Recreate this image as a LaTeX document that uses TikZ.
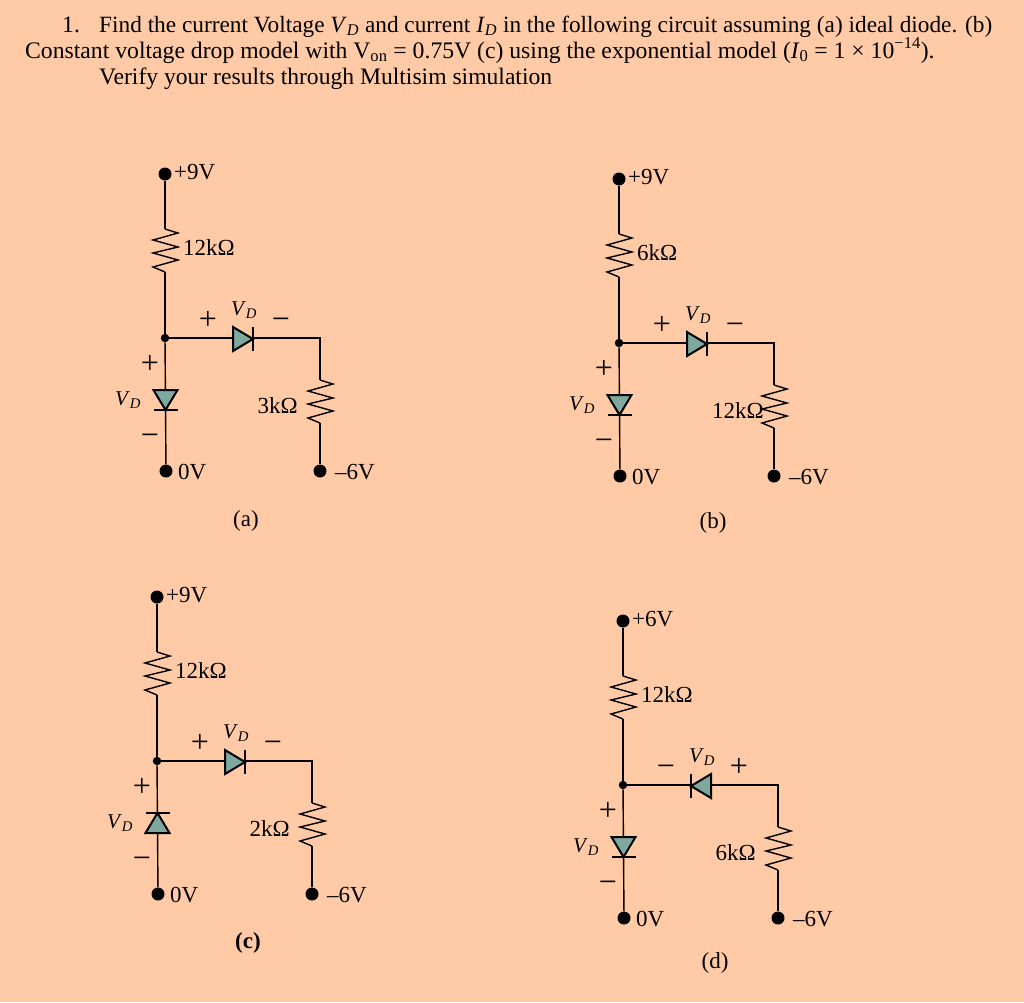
\documentclass[tikz,border=0pt]{standalone}
\usepackage{fontspec}
\setmainfont{Liberation Serif}
\definecolor{paper}{HTML}{FFCAA5}
\definecolor{diodefill}{HTML}{7FA99F}
\newcommand{\Vd}{\textit{V}\textsubscript{\textit{D}}}
\tikzset{
  lbl/.style={inner sep=0,font=\fontsize{23}{27}\selectfont},
  vlbl/.style={inner sep=0,font=\fontsize{21}{25}\selectfont},
  sign/.style={inner sep=0,anchor=base,font=\fontsize{32}{36}\selectfont},
  head/.style={inner sep=0,anchor=base west,font=\fontsize{23.6}{27}\selectfont},
  term/.style={circle,fill,inner sep=0,minimum size=13pt},
  junc/.style={circle,fill,inner sep=0,minimum size=8.5pt},
  wire/.style={line width=1.4pt},
  diode/.pic={
    \draw[line width=2pt,fill=diodefill,line join=miter] (-10,-12) -- (-10,12) -- (10,0) -- cycle;
    \draw[line width=1.6pt] (10,-12) -- (10,12);
  },
  resist/.pic={
    \coordinate (-a) at (0,0);
    \coordinate (-b) at (0,43);
    \draw[wire] (-a) -- (13,4) -- (-12,11) -- (13,18) -- (-12,24) -- (13,31) -- (-12,38) -- (-b);
  }
}
\begin{document}
\begin{tikzpicture}[x=1pt,y=-1pt]
  \fill[paper] (0,0) rectangle (1024,1002);
  \useasboundingbox (0,0) rectangle (1024,1002);
  % question text
  \node[head] (num) at (62,32) {1.};
  \node[head,font=\fontsize{23.3}{27}\selectfont] (line1) at (99,32) {Find the current Voltage \Vd{} and current \textit{I}\textsubscript{\textit{D}} in the following circuit assuming (a) ideal diode. (b)};
  \node[head,font=\fontsize{23.68}{27}\selectfont] (line2) at (25,58) {Constant voltage drop model with V\textsubscript{on} = 0.75V (c) using the exponential model (\textit{I}\textsubscript{0} = 1 × 10\textsuperscript{−14}).};
  \node[head] (line3) at (99,84) {Verify your results through Multisim simulation};
  % the four circuits
  \foreach \n/\tx/\ty/\vtop/\ra/\rb/\rbx/\rotv/\roth/\hl/\hr/\capx/\capy/\capt in {
    a/165/174/+9V/12kΩ/3kΩ/-22/-90/0/+/−/81/346/(a),
    b/619/179/+9V/6kΩ/12kΩ/-10/-90/0/+/−/94/343/(b),
    c/157/597/+9V/12kΩ/2kΩ/-22/90/0/+/−/91/345/\textbf{(c)},
    d/623/621/+6V/12kΩ/6kΩ/-22/-90/180/−/+/92/341/(d)} {
    \begin{scope}[shift={(\tx,\ty)},name prefix=\n-]
      \node[term] (top) at (0,0) {};
      \node[junc] (mid) at (0,164) {};
      \node[term] (botl) at (1,297) {};
      \node[term] (botr) at (155,297) {};
      \coordinate (cor) at (155,165);
      \pic (r1) at (0,55) {resist};
      \pic (r2) at (155,206) {resist};
      \draw[wire] (top) -- (r1-a);
      \draw[wire] (r1-b) -- (mid);
      \draw[wire] (mid) -- (mid-|cor) -- (cor) -- (r2-a);
      \draw[wire] (r2-b) -- (botr);
      \draw[wire] (mid) -- (botl);
      \pic[rotate=\roth] (dh) at (78,165) {diode};
      \pic[rotate=\rotv] (dv) at (0.5,226) {diode};
      \node[lbl,anchor=west] (vs) at (9,-2) {\vtop};
      \node[lbl,anchor=west] (ra) at (18,74) {\ra};
      \node[lbl,anchor=east] (rb) at (155+\rbx,232) {\rb};
      \node[lbl,anchor=west] (vl) at (13,298) {0V};
      \node[lbl,anchor=west] (vr) at (170,298) {–6V};
      \node[sign] (hl) at (43,155) {\hl};
      \node[vlbl] (hv) at (79,136) {\Vd};
      \node[sign] (hr) at (116,155) {\hr};
      \node[sign] (pl) at (-15,199) {+};
      \node[vlbl] (dvl) at (-37,226) {\Vd};
      \node[sign] (mn) at (-15,271) {−};
      \node[lbl] (capt) at (\capx,\capy+1) {\capt};
    \end{scope}
  }
\end{tikzpicture}
\end{document}
